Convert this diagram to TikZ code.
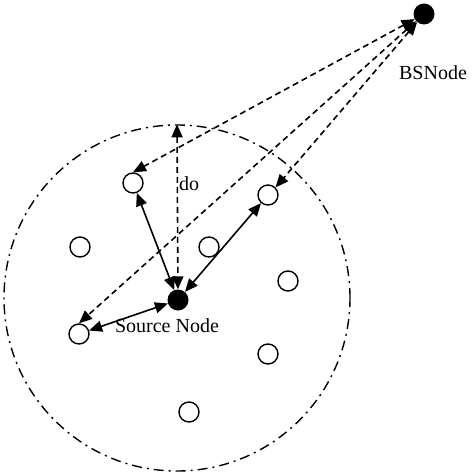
\documentclass[tikz,border=0pt]{standalone}
\usepackage{fontspec}
\setmainfont{Liberation Serif}
\usetikzlibrary{arrows.meta}
\begin{document}
\begin{tikzpicture}[x=1pt,y=-1pt,
  every node/.style={font=\fontsize{20}{24}\selectfont},
  sensor/.style={circle,draw,line width=1.4pt,minimum size=20pt,inner sep=0pt},
  hub/.style={circle,fill=black,minimum size=21pt,inner sep=0pt},
  twotip/.style={{Triangle[length=13pt,width=11pt]}-{Triangle[length=13pt,width=11pt]}},
  link/.style={twotip,line width=1.6pt},
  dlink/.style={twotip,line width=1.6pt,dash pattern=on 6pt off 4pt},
  lbl/.style={inner sep=0pt}]
\useasboundingbox (0,0) rectangle (474,476);
\node[circle,draw,line width=1.4pt,minimum size=346pt,inner sep=0pt,
  dash pattern=on 10pt off 5pt on 2pt off 5pt] (range) at (177,298) {};
\node[hub] (bs) at (424,14) {};
\node[hub] (src) at (178,300) {};
\node[sensor] (n1) at (133,183) {};
\node[sensor] (n2) at (268,195) {};
\node[sensor] (n3) at (80,247) {};
\node[sensor] (n4) at (209,247) {};
\node[sensor] (n5) at (288,281) {};
\node[sensor] (n6) at (79,334) {};
\node[sensor] (n7) at (268,354) {};
\node[sensor] (n8) at (189,412) {};
\node[lbl] (bsl) at (433,73) {BSNode};
\node[lbl] (srcl) at (167,326) {Source Node};
\node[lbl] (dol) at (189,184) {do};
\draw[dlink] (range.north) -- (src);
\draw[dlink] (bs) -- (n1.north);
\draw[dlink] (bs) -- (n2.north east);
\draw[dlink] (bs) -- (n6.north);
\draw[link] (n1) -- (src);
\draw[link] (n2) -- (src);
\draw[link] (n6) -- (src);
\end{tikzpicture}
\end{document}
